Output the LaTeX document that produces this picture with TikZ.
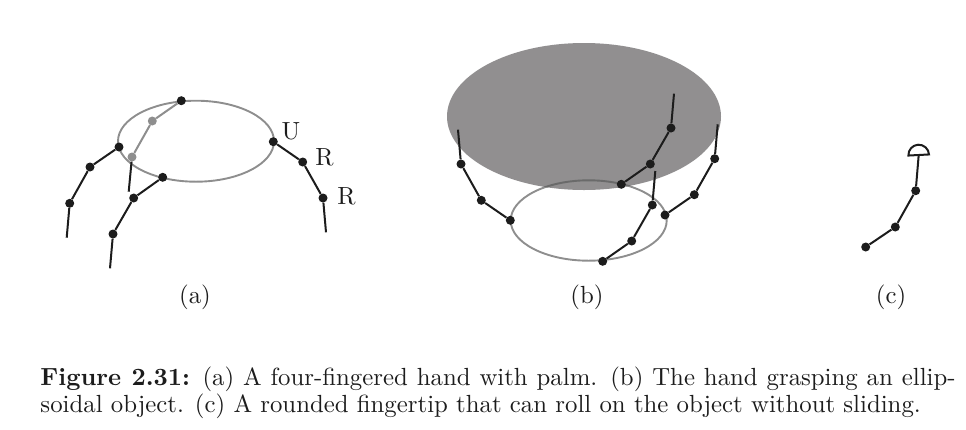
\documentclass[tikz,border=0pt]{standalone}
\definecolor{ink}{HTML}{1C1C1C}
\definecolor{rim}{HTML}{8E8E8E}
\definecolor{disc}{HTML}{918F90}
\definecolor{rimdark}{HTML}{6A6A6A}
\tikzset{
  x=1pt,y=-1pt,
  joint/.style={circle,fill=ink,draw=none,inner sep=0pt,minimum size=9pt},
  grayjoint/.style={joint,fill=rim},
  link/.style={draw=ink,line width=2pt},
  graylink/.style={draw=rim,line width=2pt},
  rimline/.style={draw=rim,line width=1.9pt},
  tag/.style={inner sep=0pt,text=ink,scale=2.48,font=\fontsize{10}{12}\selectfont},
}
\begin{document}
\begin{tikzpicture}
\useasboundingbox (0,0) rectangle (966,429);
% (a) palm
\draw[rimline] (196,141.2) ellipse [x radius=78,y radius=40.5];
\node[joint] (at) at (181.3,100.7) {};
\node[grayjoint] (ag1) at (152.3,121) {};
\node[grayjoint] (ag2) at (132,157) {};
\coordinate (agt) at (128.7,191.7);
\draw[graylink] (at) -- (ag1) -- (ag2);
\draw[link] (ag2) -- (agt);
\node[joint] (al1) at (119,147) {};
\node[joint] (al2) at (90,167) {};
\node[joint] (al3) at (69.7,203.3) {};
\coordinate (alt) at (66.7,237.7);
\draw[link] (al1) -- (al2) -- (al3) -- (alt);
\node[joint] (af1) at (162.7,177.3) {};
\node[joint] (af2) at (133.7,198) {};
\node[joint] (af3) at (113,234) {};
\coordinate (aft) at (110,268.3);
\draw[link] (af1) -- (af2) -- (af3) -- (aft);
\node[joint] (ar1) at (273.3,141.7) {};
\node[joint] (ar2) at (302.7,162) {};
\node[joint] (ar3) at (323,198) {};
\coordinate (art) at (326,232.3);
\draw[link] (ar1) -- (ar2) -- (ar3) -- (art);
\node[tag] (lu) at (291,131) {U};
\node[tag] (lr1) at (324.5,157) {R};
\node[tag] (lr2) at (346.5,196) {R};
\node[tag] (capa) at (195,297) {(a)};
% (b)
\fill[disc] (584,116.5) ellipse [x radius=137,y radius=73.5];
\draw[rimline] (588.7,220.5) ellipse [x radius=78,y radius=40.2];
\begin{scope}
\clip (584,116.5) ellipse [x radius=137,y radius=73.5];
\draw[draw=rimdark,line width=1.9pt] (588.7,220.5) ellipse [x radius=78,y radius=40.2];
\end{scope}
\node[joint] (bl1) at (510.3,220.3) {};
\node[joint] (bl2) at (481.3,200.3) {};
\node[joint] (bl3) at (461,164) {};
\coordinate (blt) at (458,129.7);
\draw[link] (bl1) -- (bl2) -- (bl3) -- (blt);
\node[joint] (bb1) at (621.3,184.3) {};
\node[joint] (bb2) at (650.3,164) {};
\node[joint] (bb3) at (671,128) {};
\coordinate (bbt) at (674,93.7);
\draw[link] (bb1) -- (bb2) -- (bb3) -- (bbt);
\node[joint] (br1) at (665,215) {};
\node[joint] (br2) at (694.3,194.7) {};
\node[joint] (br3) at (714.7,158.7) {};
\coordinate (brt) at (717.7,124.3);
\draw[link] (br1) -- (br2) -- (br3) -- (brt);
\node[joint] (bf1) at (602.7,261.3) {};
\node[joint] (bf2) at (631.7,241) {};
\node[joint] (bf3) at (652.3,205) {};
\coordinate (bft) at (655.3,171);
\draw[link] (bf1) -- (bf2) -- (bf3) -- (bft);
\node[tag] (capb) at (587,297) {(b)};
% (c)
\node[joint] (c1) at (865.7,247) {};
\node[joint] (c2) at (895.3,227) {};
\node[joint] (c3) at (915.7,190.7) {};
\coordinate (c4) at (918.7,155);
\draw[link] (c1) -- (c2) -- (c3) -- (c4);
\draw[link,fill=white,rotate around={3:(c4)}] ([xshift=-10.3pt]c4) arc [start angle=180,end angle=360,radius=10.3] -- cycle;
\node[tag] (capc) at (891,297) {(c)};
% caption
\node[anchor=north west,inner sep=0pt,scale=2.48,text width=369pt,align=justify,text=ink,
      font=\fontsize{10}{10.9}\selectfont] (cap) at (40,366)
 {\textbf{Figure 2.31:} (a) A four-fingered hand with palm. (b) The hand grasping an ellip-\linebreak soidal object. (c) A rounded fingertip that can roll on the object without sliding.};
\end{tikzpicture}
\end{document}
